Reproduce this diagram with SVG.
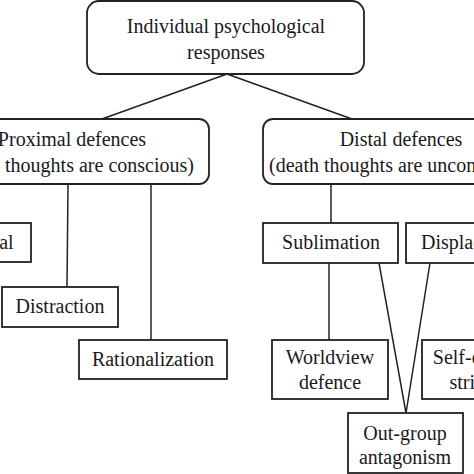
<svg xmlns="http://www.w3.org/2000/svg" width="474" height="474" viewBox="0 0 474 474">
<style>
.box{fill:#fff;stroke:#222;stroke-width:1.8}
.ln{fill:none;stroke:#222;stroke-width:1.5}
text{font-family:"Liberation Serif","Times New Roman",serif;font-size:20px;fill:#1a1a1a;text-anchor:middle}
</style>
<rect width="474" height="474" fill="#fff"/>
<g id="connectors">
<line class="ln" x1="227" y1="74" x2="102" y2="119"/>
<line class="ln" x1="227" y1="74" x2="352" y2="119"/>
<line class="ln" x1="68" y1="184" x2="67" y2="287"/>
<line class="ln" x1="151" y1="184" x2="151" y2="340"/>
<line class="ln" x1="331" y1="184" x2="331" y2="223"/>
<line class="ln" x1="329" y1="263" x2="329" y2="340"/>
<line class="ln" x1="379" y1="263" x2="406" y2="413"/>
<line class="ln" x1="430" y1="263" x2="406" y2="413"/>
</g>
<g id="root">
<rect class="box" x="87" y="1" width="277" height="73" rx="12"/>
<text x="226" y="33">Individual psychological</text>
<text x="226" y="59">responses</text>
</g>
<g id="proximal">
<rect class="box" x="-64" y="119" width="273" height="65" rx="10"/>
<text x="72" y="146">Proximal defences</text>
<text x="72" y="172">(death thoughts are conscious)</text>
</g>
<g id="distal">
<rect class="box" x="263" y="119" width="277" height="65" rx="10"/>
<text x="401" y="146">Distal defences</text>
<text x="401" y="172">(death thoughts are unconscious)</text>
</g>
<g id="denial">
<rect class="box" x="-57" y="223" width="88" height="39"/>
<text x="-13" y="249">Denial</text>
</g>
<g id="distraction">
<rect class="box" x="2" y="287" width="116" height="40"/>
<text x="60" y="313">Distraction</text>
</g>
<g id="rationalization">
<rect class="box" x="79" y="340" width="148" height="39"/>
<text x="153" y="366">Rationalization</text>
</g>
<g id="sublimation">
<rect class="box" x="263" y="223" width="135" height="40"/>
<text x="331" y="249">Sublimation</text>
</g>
<g id="displacement">
<rect class="box" x="406" y="223" width="140" height="40"/>
<text x="476" y="249">Displacement</text>
</g>
<g id="worldview">
<rect class="box" x="272" y="340" width="116" height="59"/>
<text x="330" y="364">Worldview</text>
<text x="330" y="389">defence</text>
</g>
<g id="selfesteem">
<rect class="box" x="422" y="340" width="116" height="59"/>
<text x="480" y="364">Self-esteem</text>
<text x="480" y="389">striving</text>
</g>
<g id="outgroup">
<rect class="box" x="348" y="413" width="115" height="60"/>
<text x="405" y="440">Out-group</text>
<text x="405" y="464">antagonism</text>
</g>
</svg>
